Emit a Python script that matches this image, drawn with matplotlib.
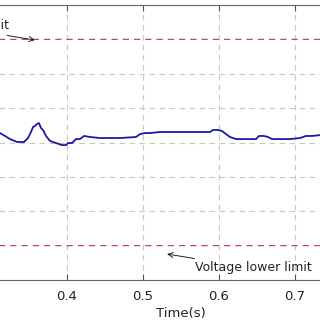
import matplotlib
matplotlib.use("Agg")
import matplotlib.pyplot as plt

# voltage curve (time in s, voltage in p.u.)
t = [0.3118, 0.3184, 0.3250, 0.3342, 0.3434, 0.3487, 0.3526, 0.3553, 0.3579,
     0.3605, 0.3632, 0.3658, 0.3684, 0.3724, 0.3776, 0.3855, 0.3934, 0.3987,
     0.4013, 0.4066, 0.4118, 0.4171, 0.4224, 0.4303, 0.4434, 0.4566, 0.4697,
     0.4908, 0.4961, 0.5026, 0.5092, 0.5224, 0.5487, 0.5750, 0.5882, 0.5921,
     0.5987, 0.6039, 0.6092, 0.6145, 0.6224, 0.6342, 0.6487, 0.6526, 0.6592,
     0.6645, 0.6697, 0.6803, 0.6934, 0.7066, 0.7145, 0.7224, 0.7329]
v = [1.0055, 1.0038, 1.0020, 1.0003, 1.0003, 1.0026, 1.0061, 1.0090, 1.0096,
     1.0108, 1.0113, 1.0084, 1.0073, 1.0038, 1.0009, 0.9997, 0.9985, 0.9985,
     0.9997, 0.9997, 1.0020, 1.0020, 1.0038, 1.0032, 1.0026, 1.0026, 1.0026,
     1.0032, 1.0049, 1.0055, 1.0055, 1.0061, 1.0061, 1.0061, 1.0061, 1.0073,
     1.0073, 1.0067, 1.0049, 1.0032, 1.0020, 1.0020, 1.0020, 1.0038, 1.0038,
     1.0032, 1.0020, 1.0020, 1.0020, 1.0026, 1.0038, 1.0038, 1.0043]

upper_limit = 1.06
lower_limit = 0.94
x_ticks = [0.3, 0.4, 0.5, 0.6, 0.7, 0.8]
y_ticks = [0.92, 0.94, 0.96, 0.98, 1.00, 1.02, 1.04, 1.06, 1.08]

fig = plt.figure(figsize=(3.2, 3.2), dpi=100)
# the picture is a crop, so the axes run past the left and right edges
ax = fig.add_axes([-9 / 320, 40 / 320, 380 / 320, 275 / 320])

ax.plot(t, v, color="#1a1aa6", lw=1.3, zorder=3)
for lim in [upper_limit, lower_limit]:
    ax.axhline(lim, color="#c0504a", ls=(0, (5, 4)), lw=0.9, zorder=3, snap=False)

ax.set_xlim(0.3, 0.8)
ax.set_ylim(0.92, 1.08)
ax.set_xticks(x_ticks)
ax.set_xticklabels([str(x) for x in x_ticks])
ax.set_yticks(y_ticks)
ax.grid(True, color="#c8c8c8", ls=(0, (5, 4)), lw=0.8)
# the limit lines sit on top of two grid lines, hide those grid lines
for val, gl in zip(y_ticks, ax.yaxis.get_gridlines()):
    if abs(val - upper_limit) < 1e-9 or abs(val - lower_limit) < 1e-9:
        gl.set_visible(False)
ax.tick_params(direction="in", top=True, right=True, labelsize=9.5,
               color="#555555", labelcolor="#222222", length=4, pad=7)
for s in ax.spines.values():
    s.set_color("#666666")
ax.set_xlabel("Time(s)", fontsize=9.5, labelpad=3, color="#222222")

arrow = dict(arrowstyle="->", color="#222222", lw=0.7, shrinkA=1, shrinkB=0)
ax.annotate("Voltage upper limit", xy=(0.3579, 1.0596), xytext=(0.3237, 1.0678),
            ha="right", va="center", fontsize=9, color="#222222",
            arrowprops=arrow, annotation_clip=False)
ax.annotate("Voltage lower limit", xy=(0.5316, 0.9351), xytext=(0.5684, 0.9270),
            ha="left", va="center", fontsize=9, color="#222222",
            arrowprops=arrow)

fig.savefig("out.png", dpi=100)
